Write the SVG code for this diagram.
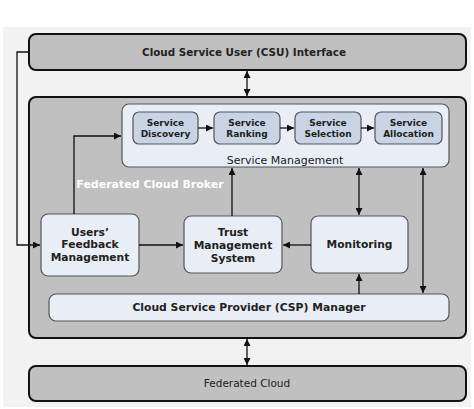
<svg xmlns="http://www.w3.org/2000/svg" width="474" height="409" viewBox="0 0 474 409">
<defs>
<marker id="ah" viewBox="0 0 10 10" refX="10" refY="5" markerWidth="9" markerHeight="7" markerUnits="userSpaceOnUse" orient="auto-start-reverse">
<path d="M0,0 L10,5 L0,10 z" fill="#111"/>
</marker>
<style>
.outer{fill:#c0c0c0;stroke:#111;stroke-width:2}
.light{fill:#e9eef6;stroke:#555;stroke-width:1.2}
.inner{fill:#c8d4e3;stroke:#555;stroke-width:1.2}
.b{font-family:"DejaVu Sans",Verdana,sans-serif;font-weight:bold;fill:#222;text-anchor:middle}
.n{font-family:"DejaVu Sans",Verdana,sans-serif;fill:#222;text-anchor:middle}
.c{fill:none;stroke:#111;stroke-width:1.3}
</style>
</defs>
<rect x="0" y="0" width="474" height="409" fill="#fff"/>
<rect x="3" y="27" width="468" height="380" fill="#f2f2f2"/>
<g id="csu">
<rect class="outer" x="29" y="34" width="437" height="36" rx="7"/>
<text class="b" x="244" y="56" font-size="10.4">Cloud Service User (CSU) Interface</text>
</g>
<g id="broker">
<rect class="outer" x="29" y="97" width="437" height="241" rx="7"/>
<text class="b" x="150" y="188" font-size="11" style="fill:#fff">Federated Cloud Broker</text>
</g>
<g id="fedcloud">
<rect class="outer" x="29" y="366" width="437" height="35" rx="7"/>
<text class="n" x="247" y="387" font-size="10.5">Federated Cloud</text>
</g>
<g id="servmgmt">
<rect class="light" x="122" y="104" width="327" height="63" rx="7"/>
<text class="n" x="285" y="164" font-size="11">Service Management</text>
</g>
<g id="discovery">
<rect class="inner" x="133" y="112" width="65" height="32" rx="6"/>
<text class="b" x="165.5" y="126" font-size="9">Service</text>
<text class="b" x="165.5" y="137" font-size="9">Discovery</text>
</g>
<g id="ranking">
<rect class="inner" x="214" y="112" width="66" height="32" rx="6"/>
<text class="b" x="247" y="126" font-size="9">Service</text>
<text class="b" x="247" y="137" font-size="9">Ranking</text>
</g>
<g id="selection">
<rect class="inner" x="295" y="112" width="66" height="32" rx="6"/>
<text class="b" x="328" y="126" font-size="9">Service</text>
<text class="b" x="328" y="137" font-size="9">Selection</text>
</g>
<g id="allocation">
<rect class="inner" x="375" y="112" width="67" height="32" rx="6"/>
<text class="b" x="408.5" y="126" font-size="9">Service</text>
<text class="b" x="408.5" y="137" font-size="9">Allocation</text>
</g>
<g id="feedback">
<rect class="light" x="41" y="214" width="98" height="62" rx="7"/>
<text class="b" x="90" y="236" font-size="10.7">Users’</text>
<text class="b" x="90" y="248" font-size="10.7">Feedback</text>
<text class="b" x="90" y="261" font-size="10.7">Management</text>
</g>
<g id="trust">
<rect class="light" x="184" y="216" width="98" height="57" rx="7"/>
<text class="b" x="233" y="236" font-size="10.7">Trust</text>
<text class="b" x="233" y="249" font-size="10.7">Management</text>
<text class="b" x="233" y="262" font-size="10.7">System</text>
</g>
<g id="monitoring">
<rect class="light" x="311" y="216" width="97" height="57" rx="7"/>
<text class="b" x="359.5" y="248" font-size="10.7">Monitoring</text>
</g>
<g id="csp">
<rect class="light" x="49" y="294" width="400" height="27" rx="7"/>
<text class="b" x="249" y="311" font-size="10.8">Cloud Service Provider (CSP) Manager</text>
</g>
<g id="connectors">
<line class="c" x1="247" y1="71" x2="247" y2="96" marker-start="url(#ah)" marker-end="url(#ah)"/>
<line class="c" x1="247" y1="339" x2="247" y2="365" marker-start="url(#ah)" marker-end="url(#ah)"/>
<polyline class="c" points="29,52 17,52 17,245 40,245" marker-end="url(#ah)"/>
<line class="c" x1="198" y1="128" x2="213" y2="128" marker-end="url(#ah)"/>
<line class="c" x1="280" y1="128" x2="294" y2="128" marker-end="url(#ah)"/>
<line class="c" x1="361" y1="128" x2="374" y2="128" marker-end="url(#ah)"/>
<polyline class="c" points="74,214 74,136 121,136" marker-end="url(#ah)"/>
<line class="c" x1="232" y1="216" x2="232" y2="168" marker-end="url(#ah)"/>
<line class="c" x1="359" y1="168" x2="359" y2="215" marker-start="url(#ah)" marker-end="url(#ah)"/>
<line class="c" x1="423" y1="168" x2="423" y2="293" marker-start="url(#ah)" marker-end="url(#ah)"/>
<line class="c" x1="139" y1="245" x2="183" y2="245" marker-end="url(#ah)"/>
<line class="c" x1="311" y1="245" x2="283" y2="245" marker-end="url(#ah)"/>
<line class="c" x1="359" y1="294" x2="359" y2="274" marker-end="url(#ah)"/>
</g>
</svg>
